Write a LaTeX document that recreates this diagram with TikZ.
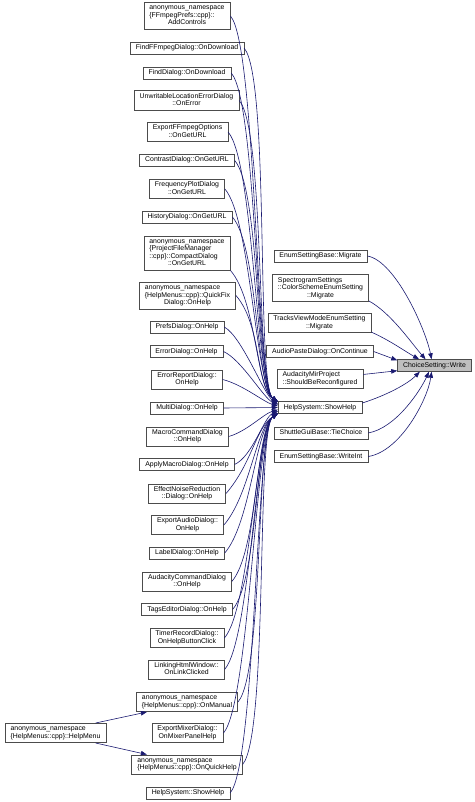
\documentclass[tikz,border=0pt]{standalone}
\usepackage{fontspec}
\setmainfont{Liberation Sans}
\usetikzlibrary{arrows.meta}

\definecolor{edgeblue}{HTML}{191970}
% all lines but the last flush left, the last one centred
\newcommand{\fnlines}[2]{\begin{tabular}{@{}l@{}}#1\\\multicolumn{1}{@{}c@{}}{#2}\end{tabular}}

\begin{document}
\begin{tikzpicture}[
  x=1pt,y=-1pt,
  fn/.style={draw=black!70,line width=0.6pt,fill=white,inner xsep=5.6pt,inner ysep=2.2pt,
    font=\fontsize{6.9pt}{7.5pt}\selectfont,execute at begin node=\strut},
  rootfn/.style={fn,fill=black!25},
  calls/.style={draw=edgeblue,line width=0.6pt,-{Triangle[length=6pt,width=4.5pt]}}
]
\useasboundingbox (0,0) rectangle (474,802);

% ---- callers of HelpSystem::ShowHelp ----
\node[fn] (addctl)   at (187,16)    {\fnlines{anonymous\_namespace\\\{FFmpegPrefs::cpp\}::}{AddControls}};
\node[fn] (findff)   at (187,48)    {FindFFmpegDialog::OnDownload};
\node[fn] (finddlg)  at (187,73)    {FindDialog::OnDownload};
\node[fn] (unwrit)   at (186.5,100.5) {\fnlines{UnwritableLocationErrorDialog}{::OnError}};
\node[fn] (expff)    at (187.5,132) {\fnlines{ExportFFmpegOptions}{::OnGetURL}};
\node[fn] (contrast) at (187,160.5) {ContrastDialog::OnGetURL};
\node[fn] (freq)     at (187,189)   {\fnlines{FrequencyPlotDialog}{::OnGetURL}};
\node[fn] (history)  at (187,217)   {HistoryDialog::OnGetURL};
\node[fn] (compact)  at (187,253)   {\fnlines{anonymous\_namespace\\\{ProjectFileManager\\::cpp\}::CompactDialog}{::OnGetURL}};
\node[fn] (quickfix) at (187.5,295.5) {\fnlines{anonymous\_namespace\\\{HelpMenus::cpp\}::QuickFix}{Dialog::OnHelp}};
\node[fn] (prefs)    at (187,327)   {PrefsDialog::OnHelp};
\node[fn] (errdlg)   at (186.5,351.5) {ErrorDialog::OnHelp};
\node[fn] (errrep)   at (187,379.5) {\fnlines{ErrorReportDialog::}{OnHelp}};
\node[fn] (multi)    at (187,408)   {MultiDialog::OnHelp};
\node[fn] (macrocmd) at (187.5,436.5) {\fnlines{MacroCommandDialog}{::OnHelp}};
\node[fn] (applymac) at (187,464.5) {ApplyMacroDialog::OnHelp};
\node[fn] (noise)    at (187,493.5) {\fnlines{EffectNoiseReduction}{::Dialog::OnHelp}};
\node[fn] (expaudio) at (187.5,525) {\fnlines{ExportAudioDialog::}{OnHelp}};
\node[fn] (label)    at (187,553)   {LabelDialog::OnHelp};
\node[fn] (audcmd)   at (187,581.5) {\fnlines{AudacityCommandDialog}{::OnHelp}};
\node[fn] (tags)     at (187,609.5) {TagsEditorDialog::OnHelp};
\node[fn] (timer)    at (187,638)   {\fnlines{TimerRecordDialog::}{OnHelpButtonClick}};
\node[fn] (linking)  at (186.5,669.5) {\fnlines{LinkingHtmlWindow::}{OnLinkClicked}};
\node[fn] (onmanual) at (187,702)   {\fnlines{anonymous\_namespace}{\{HelpMenus::cpp\}::OnManual}};
\node[fn] (expmixer) at (187.5,733) {\fnlines{ExportMixerDialog::}{OnMixerPanelHelp}};
\node[fn] (onquick)  at (187,764.5) {\fnlines{anonymous\_namespace}{\{HelpMenus::cpp\}::OnQuickHelp}};
\node[fn] (showhelpb) at (188,793)  {HelpSystem::ShowHelp};
\node[fn] (helpmenu) at (55.5,733)  {\fnlines{anonymous\_namespace}{\{HelpMenus::cpp\}::HelpMenu}};

% ---- callers of ChoiceSetting::Write ----
\node[fn] (enummig)   at (320.5,256) {EnumSettingBase::Migrate};
\node[fn] (spectro)   at (320.5,288) {\fnlines{SpectrogramSettings\\::ColorSchemeEnumSetting}{::Migrate}};
\node[fn] (tracks)    at (319.5,323) {\fnlines{TracksViewModeEnumSetting}{::Migrate}};
\node[fn] (paste)     at (320,351.5) {AudioPasteDialog::OnContinue};
\node[fn] (mir)       at (320,379)   {\fnlines{AudacityMirProject}{::ShouldBeReconfigured}};
\node[fn] (showhelp)  at (320,407.5) {HelpSystem::ShowHelp};
\node[fn] (tiechoice) at (321,433)   {ShuttleGuiBase::TieChoice};
\node[fn] (writeint)  at (321,456.5) {EnumSettingBase::WriteInt};
\node[rootfn] (write) at (434.5,365.5) {ChoiceSetting::Write};

% ---- HelpMenu ----
\draw[calls] (helpmenu.14) -- (onmanual.194);
\draw[calls] (helpmenu.-14) -- (onquick.166);

% ---- into ShowHelp from above ----
\foreach \n/\s in {addctl/east, findff/east, finddlg/east, unwrit/east, expff/east,
    contrast/east, freq/east, history/east, compact/south east, quickfix/east}
  \draw[calls] (\n.\s) .. controls +(26,30) and +(-22,-14) .. (showhelp.172);
\draw[calls] (prefs.east) .. controls +(18,10) and +(-14,-9) .. (showhelp.175);
\draw[calls] (errdlg.east) .. controls +(18,8) and +(-14,-6) .. (showhelp.176);
\draw[calls] (errrep.east) .. controls +(20,5) and +(-14,-4) .. (showhelp.178);
\draw[calls] (multi.east) -- (showhelp.west);
\draw[calls] (macrocmd.east) .. controls +(18,-5) and +(-14,4) .. (showhelp.183);
\draw[calls] (applymac.east) .. controls +(18,-8) and +(-14,6) .. (showhelp.185);

% ---- into ShowHelp from below ----
\foreach \n in {noise, expaudio, label, audcmd, tags, timer, linking,
    onmanual, expmixer, onquick, showhelpb}
  \draw[calls] (\n.east) .. controls +(26,-30) and +(-22,14) .. (showhelp.188);

% ---- into ChoiceSetting::Write ----
\draw[calls] (enummig.east) .. controls +(28,5) and +(-6,-30) .. (write.115);
\draw[calls] (spectro.-15) .. controls +(22,12) and +(-14,-16) .. (write.145);
\draw[calls] (tracks.-10) .. controls +(18,8) and +(-14,-8) .. (write.158);
\draw[calls] (paste.east) -- (write.172);
\draw[calls] (mir.6) -- (write.188);
\draw[calls] (showhelp.6) .. controls +(25,-8) and +(-12,12) .. (write.203);
\draw[calls] (tiechoice.east) .. controls +(28,-5) and +(-8,18) .. (write.228);
\draw[calls] (writeint.east) .. controls +(32,-5) and +(-4,28) .. (write.245);

\end{tikzpicture}
\end{document}
